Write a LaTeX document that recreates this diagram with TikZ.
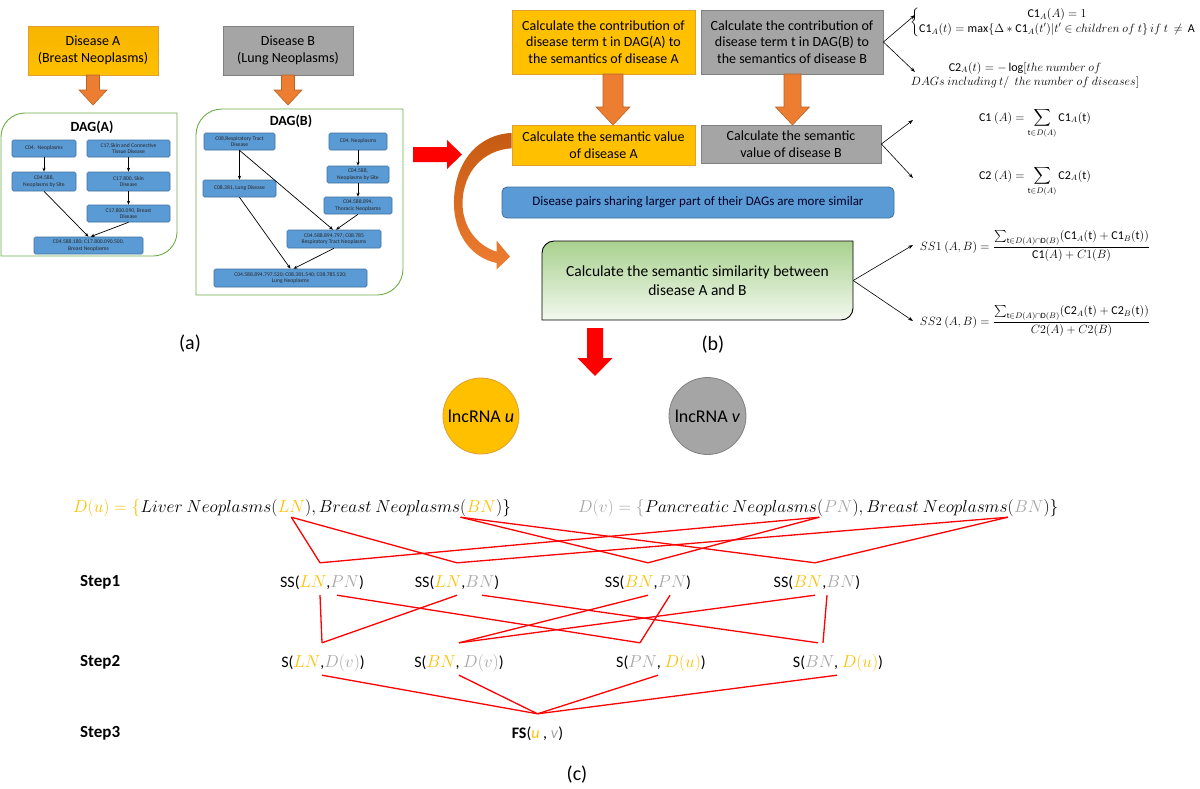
\documentclass[tikz,border=0pt]{standalone}
\usepackage{amsmath}
\usepackage{fontspec}
\setmainfont{Carlito}
\usetikzlibrary{arrows.meta}
\definecolor{gold}{HTML}{FFC000}
\definecolor{goldtop}{HTML}{F7B500}
\definecolor{goldb}{HTML}{E0A030}
\definecolor{grayf}{HTML}{A5A5A5}
\definecolor{grayb}{HTML}{808080}
\definecolor{graytxt}{HTML}{A6A6A6}
\definecolor{bluef}{HTML}{5B9BD5}
\definecolor{blueb}{HTML}{41719C}
\definecolor{orf}{HTML}{ED7D31}
\definecolor{orb}{HTML}{B5652A}
\definecolor{brownf}{HTML}{C55A11}
\definecolor{dagg}{HTML}{70AD47}
\definecolor{redf}{HTML}{FF0000}
\definecolor{greentop}{HTML}{A9D18E}
\definecolor{greenbot}{HTML}{F2F8EE}
\newcommand{\blockdown}[7]{\path[#1] ({#2-#6},#3) -- ({#2+#6},#3) -- ({#2+#6},#4) -- ({#2+#7},#4) -- (#2,#5) -- ({#2-#7},#4) -- ({#2-#6},#4) -- cycle;}
\begin{document}
\begin{tikzpicture}[x=1pt,y=-1pt,
  dagbox/.style={draw=blueb, fill=bluef, rounded corners=1.5pt, line width=0.6pt, inner sep=0pt, align=center, font=\fontsize{5.6}{6.6}\selectfont, text=black!85},
  dagarr/.style={-{Stealth[length=4pt,width=3.2pt]}, line width=0.7pt},
  dagframe/.style={draw=dagg, line width=0.9pt},
  diseasebox/.style={minimum width=130pt, minimum height=49pt, inner sep=0pt, align=center, font=\fontsize{14}{17}\selectfont, line width=0.8pt},
  calcbox/.style={inner sep=0pt, align=center, font=\fontsize{14}{16.7}\selectfont, line width=0.8pt},
  blockor/.style={fill=orf, draw=orb, line width=0.6pt},
  blockred/.style={fill=redf},
  fline/.style={-{Stealth[length=5pt,width=3.5pt]}, line width=0.6pt},
  fml/.style={inner sep=0pt, font=\fontsize{12}{14}\selectfont},
  rl/.style={draw=redf, line width=1.3pt},
  stepitem/.style={anchor=base, inner sep=0pt, text height=24pt, text depth=8pt, font=\fontsize{16}{19}\selectfont},
  steplbl/.style={anchor=west, inner sep=0pt, font=\fontsize{17}{20}\selectfont\bfseries},
  dtext/.style={anchor=base west, inner sep=0pt, text depth=5pt, font=\fontsize{17}{20}\selectfont},
  sublbl/.style={font=\fontsize{20}{24}\selectfont}]
\useasboundingbox (0,0) rectangle (1200,788);
\fill[white] (0,0) rectangle (1200,788);

% ---------------- (a) ----------------
\node[diseasebox, top color=goldtop, bottom color=gold, draw=goldb] (dA) at (93,50.5) {Disease A\\(Breast Neoplasms)};
\node[diseasebox, fill=grayf, draw=grayb] (dB) at (288,50.5) {Disease B\\(Lung Neoplasms)};
\blockdown{blockor}{93}{75}{90}{105}{6.5}{14}
\blockdown{blockor}{288}{75}{90}{105}{6.5}{14}

\path[dagframe] (1,256) -- (1,137) .. controls (1,123.7) and (11.7,113) .. (25,113) -- (177,113) -- (177,232) .. controls (177,245.3) and (166.3,256) .. (153,256) -- cycle;
\path[dagframe] (196,295) -- (196,135) .. controls (196,120.6) and (207.6,109) .. (222,109) -- (403,109) -- (403,269) .. controls (403,283.4) and (391.4,295) .. (377,295) -- cycle;
\node[font=\fontsize{14}{16}\selectfont\bfseries] (tA) at (92,127) {DAG(A)};
\node[font=\fontsize{14}{16}\selectfont\bfseries] (tB) at (291,121.5) {DAG(B)};

\node[dagbox, minimum width=64pt, minimum height=17pt] (a1) at (44,148.5) {C04.\ \ Neoplasms};
\node[dagbox, minimum width=83pt, minimum height=17pt] (a2) at (128.5,148.5) {C17,Skin and Connective\\Tissue Disease};
\node[dagbox, minimum width=64pt, minimum height=19pt] (a3) at (44,181.5) {C04.588,\\Neoplasms by Site};
\node[dagbox, minimum width=83pt, minimum height=19pt] (a4) at (128.5,181.5) {C17.800, Skin\\Disease};
\node[dagbox, minimum width=83pt, minimum height=17pt] (a5) at (128.5,213.5) {C17.800.090, Breast\\Disease};
\node[dagbox, minimum width=109pt, minimum height=17pt] (a6) at (88.5,245.5) {C04.588.180; C17.800.090.500,\\Breast Neoplasms};
\draw[dagarr] (a1) -- (a3);
\draw[dagarr] (a2) -- (a4);
\draw[dagarr] (a4) -- (a5);
\draw[dagarr] (a3.south) -- (a6.north);
\draw[dagarr] (a5.south) -- ([xshift=2pt]a6.north);

\node[dagbox, minimum width=71pt, minimum height=17pt] (b1) at (239.5,141.5) {C08,Respiratory Tract\\Disease};
\node[dagbox, minimum width=58pt, minimum height=17pt] (b2) at (358,141.5) {C04, Neoplasms};
\node[dagbox, minimum width=73pt, minimum height=17pt] (b3) at (239.5,188.5) {C08.381, Lung Disease};
\node[dagbox, minimum width=62pt, minimum height=17pt] (b4) at (358,174.5) {C04.588,\\Neoplasms by Site};
\node[dagbox, minimum width=68pt, minimum height=17pt] (b5) at (358,205.5) {C04.588.894,\\Thoracic Neoplasms};
\node[dagbox, minimum width=94pt, minimum height=18pt] (b6) at (334,239) {C04.588.894.797; C08.785\\Respiratory Tract Neoplasms};
\node[dagbox, minimum width=153pt, minimum height=18pt] (b7) at (290.5,278) {C04.588.894.797.520; C08.381.540; C08.785.520;\\Lung Neoplasms};
\draw[dagarr] (b1.south) -- (b3.north);
\draw[dagarr] (b1.south) -- ([xshift=-1pt]b6.north);
\draw[dagarr] (b2) -- (b4);
\draw[dagarr] (b4) -- (b5);
\draw[dagarr] (b5.south) -- ([xshift=2pt]b6.north);
\draw[dagarr] (b3.south) -- (b7.north);
\draw[dagarr] (b6.south) -- ([xshift=3pt]b7.north);

\node[sublbl] (la) at (190,344) {(a)};

% red arrow right
\path[blockred] (413,147) -- (447,147) -- (447,140) -- (462,154.5) -- (447,169) -- (447,162) -- (413,162) -- cycle;

% ---------------- (b) ----------------
\node[calcbox, fill=gold, draw=goldb, minimum width=183pt, minimum height=64pt] (bA1) at (603.5,42) {Calculate the contribution of\\disease term t in DAG(A) to\\the semantics of disease A};
\node[calcbox, fill=grayf, draw=grayb, minimum width=182pt, minimum height=64pt] (bB1) at (792,42) {Calculate the contribution of\\disease term t in DAG(B) to\\the semantics of disease B};
\blockdown{blockor}{613}{74}{107}{125}{10}{17}
\blockdown{blockor}{792.5}{74}{107}{125}{8.5}{17}
\node[calcbox, fill=gold, draw=goldb, minimum width=183pt, minimum height=40pt] (bA2) at (603.5,145) {Calculate the semantic value\\of disease A};
\node[calcbox, fill=grayf, draw=grayb, minimum width=180pt, minimum height=38pt] (bB2) at (791,144) {Calculate the semantic\\value of disease B};
\node[fill=bluef, draw=blueb, rounded corners=5pt, line width=0.8pt, minimum width=392pt, minimum height=31pt, inner sep=0pt, font=\fontsize{13}{15}\selectfont, text=black!85!blue] (blue) at (698,202.5) {Disease pairs sharing larger part of their DAGs are more similar};

% curved arrow
\path[top color=brownf, bottom color=orf, draw=none] (511.7,133) .. controls (480,134) and (455,160) .. (454,200) .. controls (453,235) and (472,258) .. (496.7,263) -- (496.7,269.3) -- (510,256.7) -- (496.7,240.7) -- (496.7,251.7) .. controls (478,246) and (462.5,228) .. (462.5,203) .. controls (463,172) and (483,150) .. (511.7,148.3) -- cycle;

% green box
\path[draw=black, line width=0.9pt, top color=greentop, bottom color=greenbot] (542,320) -- (542,253) .. controls (542,246.4) and (547.4,241) .. (554,241) -- (853,241) -- (853,308) .. controls (853,314.6) and (847.6,320) .. (841,320) -- cycle;
\node[minimum width=311pt, minimum height=79pt, inner sep=0pt, align=center, font=\fontsize{15.5}{19}\selectfont] (sim) at (697.5,280.5) {Calculate the semantic similarity between\\disease A and B};

\blockdown{blockred}{595}{328}{358}{376}{8}{17.5}
\node[sublbl] (lb) at (713,345) {(b)};

% formulas
\coordinate (t1) at (915,15);
\coordinate (t2) at (915,72);
\coordinate (t3) at (913,120);
\coordinate (t4) at (913,178);
\coordinate (t5) at (913,245);
\coordinate (t6) at (913,321);
\draw[fline] (bB1.east) -- (t1);
\draw[fline] (bB1.east) -- (t2);
\draw[fline] (bB2.east) -- (t3);
\draw[fline] (bB2.east) -- (t4);
\draw[fline] (sim.east) -- (t5);
\draw[fline] (sim.east) -- (t6);

\node[fml, anchor=west] (f1) at (910,22) {\delimitershortfall=9pt\delimiterfactor=850$\left\{\renewcommand{\arraystretch}{1.05}\begin{array}{@{}c@{}}\mathrm{C1}_A(A)=1\\ \mathrm{C1}_A(t)=\max\{\Delta*\mathrm{C1}_A(t')|t'\in children\ of\ t\}\,if\ t\,\neq\,\mathrm{A}\end{array}\right.$};
\node[fml, align=center] (f2) at (1025,75) {$\mathrm{C2}_A(t)=-\log[the\ number\ of$\\$DAGs\ including\,t/\ \ the\ number\ of\ diseases]$};
\node[fml, anchor=base] (f3) at (1035,121) {$\displaystyle \mathrm{C1}\ (A)=\sum_{\mathrm{t}\in D(A)}\mathrm{C1}_A(\mathrm{t})$};
\node[fml, anchor=base] (f4) at (1035,179) {$\displaystyle \mathrm{C2}\ (A)=\sum_{\mathrm{t}\in D(A)}\mathrm{C2}_A(\mathrm{t})$};
\node[fml, anchor=base] (f5) at (1035,250) {$\displaystyle SS1\ (A,B)=\frac{\sum_{\mathrm{t}\in D(A)\cap \mathrm{D}(B)}(\mathrm{C1}_A(\mathrm{t})+\mathrm{C1}_B(\mathrm{t}))}{\mathrm{C1}(A)+C1(B)}$};
\node[fml, anchor=base] (f6) at (1035,325) {$\displaystyle SS2\ (A,B)=\frac{\sum_{\mathrm{t}\in D(A)\cap \mathrm{D}(B)}(\mathrm{C2}_A(\mathrm{t})+\mathrm{C2}_B(\mathrm{t}))}{C2(A)+C2(B)}$};

% ---------------- (c) ----------------
\node[circle, fill=gold, draw=goldb, line width=0.8pt, minimum size=76pt, inner sep=0pt, font=\fontsize{18}{20}\selectfont] (u) at (481,416) {lncRNA \textit{u}};
\node[circle, fill=grayf, draw=grayb, line width=0.8pt, minimum size=77pt, inner sep=0pt, font=\fontsize{18}{20}\selectfont] (v) at (707.5,416) {lncRNA \textit{v}};

\node[dtext] (du0) at (73,512) {\color{gold}$D(u)=\{$};
\node[dtext] (du1) at (du0.base east) {$Liver\ Neoplasms($};
\node[dtext] (LNu) at (du1.base east) {\color{gold}$LN$};
\node[dtext] (du2) at (LNu.base east) {$),Breast\ Neoplasms($};
\node[dtext] (BNu) at (du2.base east) {\color{gold}$BN$};
\node[dtext] (du3) at (BNu.base east) {$)\}$};

\node[dtext] (dv0) at (578,512) {\color{graytxt}$D(v)=\{$};
\node[dtext] (dv1) at (dv0.base east) {$Pancreatic\ Neoplasms($};
\node[dtext] (PNv) at (dv1.base east) {\color{graytxt}$PN$};
\node[dtext] (dv2) at (PNv.base east) {$),Breast\ Neoplasms($};
\node[dtext] (BNv) at (dv2.base east) {\color{graytxt}$BN$};
\node[dtext] (dv3) at (BNv.base east) {$)\}$};

\node[steplbl] (st1) at (80,582) {Step1};
\node[steplbl] (st2) at (80,662) {Step2};
\node[steplbl] (st3) at (80,733) {Step3};

\node[stepitem] (ss1) at (322,587) {SS(\textcolor{gold}{$LN$},\textcolor{graytxt}{$PN$})};
\node[stepitem] (ss2) at (457,587) {SS(\textcolor{gold}{$LN$},\textcolor{graytxt}{$BN$})};
\node[stepitem] (ss3) at (648,587) {SS(\textcolor{gold}{$BN$},\textcolor{graytxt}{$PN$})};
\node[stepitem] (ss4) at (817,587) {SS(\textcolor{gold}{$BN$},\textcolor{graytxt}{$BN$})};

\node[stepitem] (s1) at (323,667) {S(\textcolor{gold}{$LN$},\textcolor{graytxt}{$D(v)$})};
\node[stepitem] (s2) at (459,667) {S(\textcolor{gold}{$BN$}, \textcolor{graytxt}{$D(v)$})};
\node[stepitem] (s3) at (661,667) {S(\textcolor{graytxt}{$PN$}, \textcolor{gold}{$D(u)$})};
\node[stepitem] (s4) at (838,667) {S(\textcolor{graytxt}{$BN$}, \textcolor{gold}{$D(u)$})};

\node[stepitem] (fs) at (537.5,738) {\textbf{FS}(\textcolor{gold}{\textit{u}} , \textcolor{graytxt}{\textit{v}})};

% red lines D -> step1
\draw[rl] (LNu.south) -- ([xshift=-2pt]ss1.north);
\draw[rl] (LNu.south) -- (ss2.north);
\draw[rl] ([xshift=-6pt]BNu.south west) -- (ss3.north);
\draw[rl] ([xshift=-6pt]BNu.south west) -- ([xshift=-2pt]ss4.north);
\draw[rl] ([xshift=-4pt]PNv.south west) -- ([xshift=-2pt]ss1.north);
\draw[rl] ([xshift=-4pt]PNv.south west) -- (ss3.north);
\draw[rl] ([xshift=-6pt]BNv.south west) -- (ss2.north);
\draw[rl] ([xshift=-6pt]BNv.south west) -- ([xshift=-2pt]ss4.north);
% step1 -> step2
\draw[rl] ([xshift=-2pt]ss1.south) -- ([xshift=-1pt]s1.north);
\draw[rl] (ss2.south) -- ([xshift=-1pt]s1.north);
\draw[rl] ([xshift=15pt]ss1.south) -- ([xshift=-21pt]s3.north);
\draw[rl] ([xshift=22pt]ss3.south) -- ([xshift=-21pt]s3.north);
\draw[rl] ([xshift=25pt]ss2.south) -- ([xshift=-20pt]s4.north);
\draw[rl] ([xshift=10pt]ss4.south) -- ([xshift=-15pt]s4.north);
\draw[rl] (ss3.south) -- (s2.north);
\draw[rl] ([xshift=-2pt]ss4.south) -- (s2.north);
% step2 -> step3
\draw[rl] ([xshift=-1pt]s1.south) -- (fs.north);
\draw[rl] (s2.south) -- (fs.north);
\draw[rl] ([xshift=-3pt]s3.south) -- (fs.north);
\draw[rl] ([xshift=-1pt]s4.south) -- (fs.north);

\node[sublbl] (lc) at (577,775) {(c)};
\end{tikzpicture}
\end{document}
